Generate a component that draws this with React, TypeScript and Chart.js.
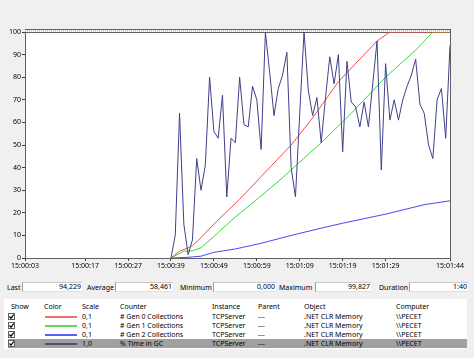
import React, { useEffect, useRef } from "react";
import { Chart, registerables } from "chart.js";
Chart.register(...registerables);

// ---- data ----
const xTickIdx = [0, 14, 24, 34, 44, 54, 64, 74, 84, 99];
const xTickLabels = ["15:00:03", "15:00:17", "15:00:27", "15:00:39", "15:00:49", "15:00:59", "15:01:09", "15:01:19", "15:01:29", "15:01:44"];

const gcStartIdx = 34;
const timeInGC = [
  0, 10, 64, 15, 1.5, 8, 44, 30, 41, 80,
  56, 53, 72, 27, 53, 51, 80, 59, 58, 76,
  70, 48, 100, 82, 63, 75, 81, 91, 40, 27,
  64, 100, 74, 63, 71, 51, 71, 89, 77, 90,
  47, 87, 69, 67, 58, 69, 58, 77, 96, 39,
  86, 61, 70, 61, 70, 76, 81, 88, 68, 64,
  50, 44, 70, 75, 53, 94,
];
const gen0Points: [number, number][] = [[34, 0], [36, 3], [38, 4.5], [39, 5.5], [41, 9], [44, 15], [50, 26], [55, 36], [62, 50], [67, 62], [73, 78], [78, 88], [82, 96], [85, 100], [99, 100]];
const gen1Points: [number, number][] = [[34, 0], [37, 3], [39, 3.2], [41, 4.5], [44, 9.5], [48, 16.5], [55, 27.5], [60, 35.5], [62, 39], [69, 51], [76, 64], [84, 80], [91, 92], [95, 100], [99, 100]];
const gen2Points: [number, number][] = [[34, 0], [38, 0.3], [41, 0.8], [44, 2.5], [49, 4], [55, 6.5], [62, 10], [69, 13.2], [74, 15.4], [84, 19.4], [93, 23.6], [99, 25.3]];

const counterNames = ["# Gen 0 Collections", "# Gen 1 Collections", "# Gen 2 Collections", "% Time in GC"];
const counterScales = ["0,1", "0,1", "0,1", "1,0"];
const counterColors = ["#ff4848", "#38d838", "#4848f8", "#40408c"];
const swatchColors = ["#f07070", "#60d860", "#6060f0", "#505070"];
const instanceName = "TCPServer";
const parentName = "---";
const objectName = ".NET CLR Memory";
const computerName = "\\\\PECET";
const headers = ["Show", "Color", "Scale", "Counter", "Instance", "Parent", "Object", "Computer"];
const statLabels = ["Last", "Average", "Minimum", "Maximum", "Duration"];
const statValues = ["94,229", "58,461", "0,000", "99,827", "1:40"];

// ---- layout ----
const FONT = "'Noto Sans', sans-serif";
const headerX = [11, 44, 82, 120, 212, 258, 304, 396];
const rowY = [316.5, 325.5, 334.5, 343.5];
const statLabelX = [7, 87, 180, 279, 379];
const statBox = [[22, 82], [115, 173], [213, 276], [315, 371], [409, 468]];

const framePlugin = {
  id: "frame",
  beforeDraw(chart: any) {
    const { ctx, chartArea: a } = chart;
    ctx.save();
    ctx.fillStyle = "#ffffff";
    ctx.fillRect(a.left, a.top - 3, a.right - a.left, a.bottom - a.top + 3);
    ctx.restore();
  },
  beforeDatasetsDraw(chart: any) {
    const { ctx, chartArea: a } = chart;
    ctx.save();
    ctx.lineWidth = 1;
    ctx.strokeStyle = "#606060";
    ctx.beginPath();
    ctx.moveTo(a.left, a.top - 2.5);
    ctx.lineTo(a.right + 1, a.top - 2.5);
    ctx.moveTo(a.left, a.top + 0.5);
    ctx.lineTo(a.right + 1, a.top + 0.5);
    ctx.moveTo(a.right + 0.5, a.top - 3);
    ctx.lineTo(a.right + 0.5, a.bottom);
    ctx.stroke();
    ctx.strokeStyle = "#a0a0a0";
    ctx.setLineDash([1, 1]);
    ctx.beginPath();
    ctx.moveTo(a.left, a.top - 1);
    ctx.lineTo(a.right, a.top - 1);
    ctx.stroke();
    ctx.restore();
  },
};

function ChartCanvas() {
  const ref = useRef<HTMLCanvasElement>(null);
  useEffect(() => {
    if (!ref.current) return;
    const tickFont = { family: FONT, size: 7 };
    const chart = new Chart(ref.current, {
      type: "line",
      data: {
        datasets: [
          {
            label: counterNames[3],
            data: timeInGC.map((v, i) => ({ x: gcStartIdx + i, y: v })),
            borderColor: counterColors[3], borderWidth: 1, pointRadius: 0, tension: 0, order: 0,
          },
          {
            label: counterNames[0],
            data: gen0Points.map(([x, y]) => ({ x, y })),
            borderColor: counterColors[0], borderWidth: 1, pointRadius: 0, tension: 0, order: 1,
          },
          {
            label: counterNames[1],
            data: gen1Points.map(([x, y]) => ({ x, y })),
            borderColor: counterColors[1], borderWidth: 1, pointRadius: 0, tension: 0, order: 2,
          },
          {
            label: counterNames[2],
            data: gen2Points.map(([x, y]) => ({ x, y })),
            borderColor: counterColors[2], borderWidth: 1, pointRadius: 0, tension: 0, order: 3,
          },
        ],
      },
      options: {
        responsive: false,
        animation: false,
        layout: { padding: { top: 32, right: 24, left: 0, bottom: 0 } },
        plugins: { legend: { display: false }, tooltip: { enabled: false } },
        scales: {
          x: {
            type: "linear", min: 0, max: 99,
            afterBuildTicks: (s: any) => { s.ticks = xTickIdx.map((v) => ({ value: v })); },
            afterFit: (s: any) => { s.height = 17; },
            ticks: {
              autoSkip: false, maxRotation: 0, minRotation: 0, font: tickFont, color: "#000", padding: 1,
              callback: (v: any) => { const i = xTickIdx.indexOf(Number(v)); return i >= 0 ? xTickLabels[i] : ""; },
            },
            grid: { drawOnChartArea: false, drawTicks: true, tickLength: 3, color: "#404040" },
            border: { display: true, color: "#606060" },
          },
          y: {
            min: 0, max: 100,
            afterFit: (s: any) => { s.width = 25; },
            ticks: { stepSize: 10, font: tickFont, color: "#000", padding: 1 },
            grid: { drawOnChartArea: false, drawTicks: true, tickLength: 3, color: "#404040" },
            border: { display: true, color: "#606060" },
          },
        },
      },
      plugins: [framePlugin],
    } as any);
    return () => chart.destroy();
  }, []);
  return <canvas ref={ref} width={474} height={275} style={{ position: "absolute", left: 0, top: 0, width: 474, height: 275 }} />;
}

function Check({ top }: { top: number }) {
  return (
    <svg width={7} height={7} style={{ position: "absolute", left: 8, top }}>
      <rect x={0.5} y={0.5} width={6} height={6} fill="#fff" stroke="#606060" strokeWidth={1} />
      <path d="M1.5 3.5 L3 5.2 L5.8 1.5" stroke="#000" strokeWidth={1.2} fill="none" />
    </svg>
  );
}

function txt(s: string, left: number, cy: number, extra: any = {}) {
  return (
    <span style={{ position: "absolute", left, top: cy - 4.5, height: 9, lineHeight: "9px", whiteSpace: "nowrap", ...extra }}>{s}</span>
  );
}

export default function App() {
  return (
    <div style={{ position: "fixed", left: 0, top: 0, width: 474, height: 358, background: "#f0f0f0", overflow: "hidden", fontFamily: FONT, fontSize: 7, color: "#000" }}>
      <ChartCanvas />
      {statLabels.map((l, i) => (
        <React.Fragment key={l}>
          {txt(l, statLabelX[i], 287)}
          <div style={{ position: "absolute", left: statBox[i][0], top: 282, width: statBox[i][1] - statBox[i][0], height: 10, boxSizing: "border-box", background: "#fff", borderLeft: "1px solid #a0a0a0", borderTop: "1px solid #c8c8c8", borderBottom: "1px solid #e0e0e0", textAlign: "right", paddingRight: 1, lineHeight: "8px" }}>
            {statValues[i]}
          </div>
        </React.Fragment>
      ))}
      <div style={{ position: "absolute", left: 4, top: 299, width: 463, height: 50, background: "#fff" }} />
      {headers.map((h, i) => <React.Fragment key={h}>{txt(h, headerX[i], 306)}</React.Fragment>)}
      <div style={{ position: "absolute", left: 8, top: 339, width: 459, height: 9, background: "#a0a0a0" }} />
      {counterNames.map((n, i) => (
        <React.Fragment key={n}>
          <Check top={rowY[i] - 3.5} />
          <div style={{ position: "absolute", left: 45, top: rowY[i] - 1, width: 32, height: 2, background: swatchColors[i] }} />
          {txt(counterScales[i], 82, rowY[i])}
          {txt(n, headerX[3], rowY[i])}
          {txt(instanceName, headerX[4], rowY[i])}
          {txt(parentName, headerX[5], rowY[i])}
          {txt(objectName, headerX[6], rowY[i])}
          {txt(computerName, headerX[7], rowY[i])}
        </React.Fragment>
      ))}
    </div>
  );
}
